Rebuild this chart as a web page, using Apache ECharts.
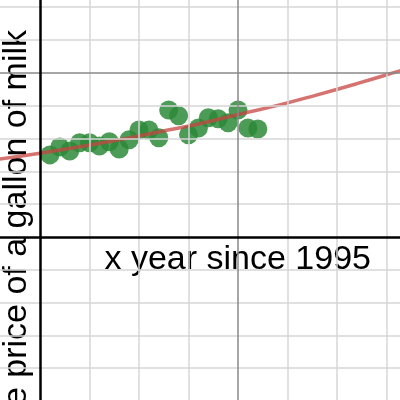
<!DOCTYPE html>
<html><head><meta charset="utf-8">
<script src="https://cdn.jsdelivr.net/npm/echarts@6/dist/echarts.min.js"></script>
<style>html,body{margin:0;padding:0}#c{width:400px;height:400px}</style>
</head><body><div id="c"></div>
<script>
const years = [1,2,3,4,5,6,7,8,9,10,11,12,13,14,15,16,17,18,19,20,21,22];
const prices = [2.50,2.74,2.62,2.87,2.87,2.77,2.90,2.68,2.96,3.26,3.26,3.02,3.87,3.69,3.11,3.32,3.63,3.60,3.48,3.87,3.32,3.29];
const fitX = [-4.1,0,4,8,12,16,20,24,28,32,36,36.4];
const fitY = [2.37,2.55,2.75,2.96,3.20,3.44,3.73,4.01,4.33,4.67,5.03,5.07];
const minorX = [5,10,15,25,30,35];
const majorX = [20];
const minorY = [-4,-3,-2,-1,1,2,3,4,6,7];
const majorY = [5];
const xLabel = 'x year since 1995';
const yLabel = 'the price of a gallon of milk';

const ml = (vals, key, color, w) => vals.map(v => ({[key]: v, lineStyle:{color:color,width:w,type:'solid'}}));
const chart = echarts.init(document.getElementById('c'));
chart.setOption({
  animation:false,
  grid:{left:0,right:0,top:0,bottom:0},
  xAxis:{type:'value',min:-4.04,max:36.36,show:false,splitLine:{show:false}},
  yAxis:{type:'value',min:-4.97,max:7.22,show:false,splitLine:{show:false}},
  series:[
    {type:'line',data:[],silent:true,markLine:{symbol:'none',silent:true,label:{show:false},
      data:[].concat(ml(minorX,'xAxis','#d6d6d6',1.5),ml(minorY,'yAxis','#d6d6d6',1.5),
        ml(majorX,'xAxis','#888',1.5),ml(majorY,'yAxis','#888',1.5),
        ml([0],'xAxis','#000',2.5),ml([0],'yAxis','#000',2.5))}},
    {type:'line',data:fitX.map((x,i)=>[x,fitY[i]]),smooth:true,showSymbol:false,
      lineStyle:{color:'#c74440',width:3.5,opacity:0.75}},
    {type:'scatter',data:years.map((x,i)=>[x,prices[i]]),symbolSize:19,
      itemStyle:{color:'#2d8a3a',opacity:0.85}}
  ],
  graphic:[
    {type:'text',left:103,top:241,style:{text:xLabel,font:'34px Arial, "Liberation Sans"',fill:'#000',stroke:'#fff',lineWidth:3}},
    {type:'text',x:17,y:30,rotation:Math.PI/2,style:{text:yLabel,font:'34px Arial, "Liberation Sans"',fill:'#000',stroke:'#fff',lineWidth:3,align:'right',verticalAlign:'middle'}}
  ]
});
</script></body></html>
